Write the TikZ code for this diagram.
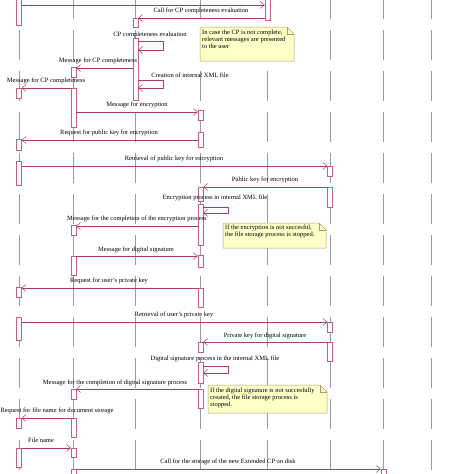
\documentclass[tikz,border=0pt]{standalone}
\usepackage{fontspec}
\setmainfont{Liberation Serif}
\usetikzlibrary{arrows.meta}
\definecolor{lifec}{HTML}{A0989C}
\definecolor{actc}{HTML}{C0607E}
\definecolor{msgc}{HTML}{B03A62}
\definecolor{notefill}{HTML}{FFFFC8}
\definecolor{notedraw}{HTML}{B89A6A}
\tikzset{
  lifeline/.style={draw=lifec, line width=0.6pt, dash pattern=on 30pt off 11pt, dash phase=11pt},
  act/.style={draw=actc, fill=white, line width=0.5pt},
  msg/.style={draw=msgc, line width=0.5pt, -{Straight Barb[length=4pt,width=7pt]}},
  lbl/.style={font=\fontsize{6.5}{7.5}\selectfont, inner sep=0pt, text height=4.4pt, text depth=1.4pt, anchor=center},
  notebox/.style={draw=notedraw, fill=notefill, line width=0.5pt},
  notetext/.style={font=\fontsize{6.5}{7.3}\selectfont, inner sep=0pt, align=left, anchor=north west}
}
\def\hw{2.7}
\def\La{19}
\def\Lb{73.5}
\def\Lc{135.5}
\def\Ld{200.5}
\def\Le{267.5}
\def\Lf{330}
\def\Lg{383.5}
\def\Lh{431}
\newcommand\actbox[3]{\draw[act] ({#1-\hw},#2) rectangle ({#1+\hw},#3);}
\newcommand\notefold[4]{%
  \draw[notebox] (#1,#2) -- ({#3-7},#2) -- (#3,{#2+7}) -- (#3,#4) -- (#1,#4) -- cycle;
  \draw[notedraw, line width=0.5pt] ({#3-7},#2) -- ({#3-7},{#2+7}) -- (#3,{#2+7});}
\begin{document}
\begin{tikzpicture}[x=1pt,y=-1pt]
\useasboundingbox[fill=white] (0,0) rectangle (474,474);
% lifelines
\foreach \lx/\nm in {\La/la,\Lb/lb,\Lc/lc,\Ld/ld,\Le/le,\Lf/lf,\Lg/lg,\Lh/lh}{
  \coordinate (\nm top) at (\lx,0);
  \coordinate (\nm bot) at (\lx,476);
  \draw[lifeline] (\nm top) -- (\nm bot);
}
% activation boxes
\actbox{\La}{-2}{25}
\actbox{\La}{88}{98}
\actbox{\La}{139}{150}
\actbox{\La}{161}{185}
\actbox{\La}{287}{297}
\actbox{\La}{317}{340}
\actbox{\La}{418}{428}
\actbox{\La}{448}{467}
\actbox{\Lb}{67}{77}
\actbox{\Lb}{88}{127}
\actbox{\Lb}{225}{235}
\actbox{\Lb}{256}{275}
\actbox{\Lb}{389}{399}
\actbox{\Lb}{418}{437}
\actbox{\Lb}{448}{457}
\actbox{\Lb}{469}{478}
\actbox{\Lc}{18}{27}
\actbox{\Lc}{38}{100}
\actbox{\Ld}{110}{120}
\actbox{\Ld}{132}{147}
\actbox{\Ld}{187}{201}
\actbox{\Ld}{204}{245}
\actbox{\Ld}{255}{267}
\actbox{\Ld}{288}{307}
\actbox{\Ld}{342}{352}
\actbox{\Ld}{362}{383}
\actbox{\Ld}{389}{408}
\actbox{\Le}{-2}{20}
\actbox{\Lf}{166}{176}
\actbox{\Lf}{187}{207}
\actbox{\Lf}{322}{332}
\actbox{\Lf}{342}{361}
\actbox{\Lg}{469}{478}
% endpoints
\coordinate (m1a) at ({\La+\hw},5);   \coordinate (m1b) at ({\Le-\hw},5);
\coordinate (m2a) at ({\Le-\hw},18);  \coordinate (m2b) at ({\Lc+\hw},18);
\coordinate (m4a) at ({\Lc-\hw},68);  \coordinate (m4b) at ({\Lb+\hw},68);
\coordinate (m5a) at ({\Lb-\hw},88);  \coordinate (m5b) at ({\La+\hw},88);
\coordinate (m7a) at ({\Lb+\hw},112); \coordinate (m7b) at ({\Ld-\hw},112);
\coordinate (m8a) at ({\Ld-\hw},140); \coordinate (m8b) at ({\La+\hw},140);
\coordinate (m9a) at ({\La+\hw},166); \coordinate (m9b) at ({\Lf-\hw},166);
\coordinate (m10a) at ({\Lf-\hw},187); \coordinate (m10b) at ({\Ld+\hw},187);
\coordinate (m12a) at ({\Ld-\hw},226); \coordinate (m12b) at ({\Lb+\hw},226);
\coordinate (m13a) at ({\Lb+\hw},256); \coordinate (m13b) at ({\Ld-\hw},256);
\coordinate (m14a) at ({\Ld-\hw},288); \coordinate (m14b) at ({\La+\hw},288);
\coordinate (m15a) at ({\La+\hw},322); \coordinate (m15b) at ({\Lf-\hw},322);
\coordinate (m16a) at ({\Lf-\hw},342); \coordinate (m16b) at ({\Ld+\hw},342);
\coordinate (m18a) at ({\Ld-\hw},389); \coordinate (m18b) at ({\Lb+\hw},389);
\coordinate (m19a) at ({\Lb-\hw},418); \coordinate (m19b) at ({\La+\hw},418);
\coordinate (m20a) at ({\La+\hw},448); \coordinate (m20b) at ({\Lb-\hw},448);
\coordinate (m21a) at ({\Lb+\hw},469); \coordinate (m21b) at ({\Lg-\hw},469);
% self loops
\coordinate (s3a) at ({\Lc+\hw},41); \coordinate (s3b) at (163,41); \coordinate (s3c) at (163,50); \coordinate (s3d) at ({\Lc+\hw},50);
\coordinate (s6a) at ({\Lc+\hw},80); \coordinate (s6b) at (163,80); \coordinate (s6c) at (163,88); \coordinate (s6d) at ({\Lc+\hw},88);
\coordinate (s11a) at ({\Ld+\hw},207); \coordinate (s11b) at (228,207); \coordinate (s11c) at (228,213); \coordinate (s11d) at ({\Ld+\hw},213);
\coordinate (s17a) at ({\Ld+\hw},366); \coordinate (s17b) at (228,366); \coordinate (s17c) at (228,373); \coordinate (s17d) at ({\Ld+\hw},373);
% messages
\draw[msg] (m1a) -- (m1b);
\draw[msg] (m2a) -- (m2b);
\draw[msg] (s3a) -- (s3b) -- (s3c) -- (s3d);
\draw[msg] (m4a) -- (m4b);
\draw[msg] (m5a) -- (m5b);
\draw[msg] (s6a) -- (s6b) -- (s6c) -- (s6d);
\draw[msg] (m7a) -- (m7b);
\draw[msg] (m8a) -- (m8b);
\draw[msg] (m9a) -- (m9b);
\draw[msg] (m10a) -- (m10b);
\draw[msg] (s11a) -- (s11b) -- (s11c) -- (s11d);
\draw[msg] (m12a) -- (m12b);
\draw[msg] (m13a) -- (m13b);
\draw[msg] (m14a) -- (m14b);
\draw[msg] (m15a) -- (m15b);
\draw[msg] (m16a) -- (m16b);
\draw[msg] (s17a) -- (s17b) -- (s17c) -- (s17d);
\draw[msg] (m18a) -- (m18b);
\draw[msg] (m19a) -- (m19b);
\draw[msg] (m20a) -- (m20b);
\draw[msg] (m21a) -- (m21b);
% labels
\node[lbl] (t2) at (201,11) {Call for CP completeness evaluation};
\node[lbl] (t3) at (150,35) {CP completeness evaluation};
\node[lbl] (t4) at (98,61) {Message for CP completeness};
\node[lbl] (t5) at (46,81) {Message for CP completeness};
\node[lbl] (t6) at (190,76) {Creation of internal XML file};
\node[lbl] (t7) at (137,105) {Message for encryption};
\node[lbl] (t8) at (109,133) {Request for public key for encryption};
\node[lbl] (t9) at (174,159) {Retrieval of public key for encryption};
\node[lbl] (t10) at (265,180) {Public key for encryption};
\node[lbl] (t11) at (215,198) {Encryption process in internal XML file};
\node[lbl] (t12) at (137,219) {Message for the completion of the encryption process};
\node[lbl] (t13) at (136,250) {Message for digital signature};
\node[lbl] (t14) at (109,281) {Request for user's private key};
\node[lbl] (t15) at (174,315) {Retrieval of user's private key};
\node[lbl] (t16) at (265,336) {Private key for digital signature};
\node[lbl] (t17) at (215,359) {Digital signature process in the internal XML file};
\node[lbl] (t18) at (115,383) {Message for the completion of digital signature process};
\node[lbl] (t19) at (57,411) {Request for file name for document storage};
\node[lbl] (t20) at (41,441) {File name};
\node[lbl] (t21) at (228,462) {Call for the storage of the new Extended CP on disk};
% notes
\notefold{200}{27}{294}{61}
\node[notetext] (n1) at (202,29.3) {In case the CP is not complete,\\relevant messages are presented\\to the user};
\notefold{223}{223}{326}{248}
\node[notetext] (n2) at (225,224.5) {If the encryption is not succesful,\\the file storage process is stopped.};
\notefold{208}{385}{327}{413}
\node[notetext] (n3) at (210,387.5) {If the digital signature is not succesfully\\created, the file storage process is\\stopped.};
\end{tikzpicture}
\end{document}
